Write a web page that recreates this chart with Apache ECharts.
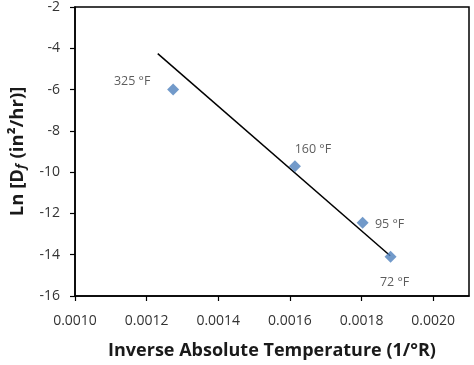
<!DOCTYPE html>
<html>
<head>
<meta charset="utf-8">
<script src="https://cdn.jsdelivr.net/npm/echarts@6/dist/echarts.min.js"></script>
<style>html,body{margin:0;padding:0;background:#fff}#c{width:474px;height:365px}</style>
</head>
<body>
<div id="c"></div>
<script>
// Data
var tempLabels = ['325 °F', '160 °F', '95 °F', '72 °F'];
var inverseTemp = [0.001274, 0.001614, 0.001803, 0.001881];
var lnDf = [-6.0, -9.71, -12.45, -14.1];
var trendX = [0.001231, 0.001880];
var trendY = [-4.26, -14.05];
var xTicks = [0.0010, 0.0012, 0.0014, 0.0016, 0.0018, 0.0020];
var yTicks = [-16, -14, -12, -10, -8, -6, -4, -2];

// label placement (style, not data)
var labelOffsets = [[-41, -8], [18, -17], [27, 2], [4, 26]];

var scatterData = inverseTemp.map(function (x, i) {
  return {
    value: [x, lnDf[i]],
    label: { show: true, position: 'inside', offset: labelOffsets[i], formatter: tempLabels[i] }
  };
});
var trendData = trendX.map(function (x, i) { return [x, trendY[i]]; });

var FONT = '"Open Sans", "Liberation Sans", sans-serif';
var chart = echarts.init(document.getElementById('c'), null, { renderer: 'canvas' });
chart.setOption({
  animation: false,
  backgroundColor: '#fff',
  grid: {
    left: 70, right: 5, top: 6.5, bottom: 69,
    show: true, borderColor: '#000', borderWidth: 1.5, backgroundColor: 'transparent'
  },
  xAxis: {
    type: 'value',
    min: 0.0010, max: 0.0021,
    interval: 0.0002,
    splitLine: { show: false },
    axisLine: { show: true, onZero: false, lineStyle: { color: '#000', width: 1.5 } },
    axisTick: { show: true, inside: false, length: 5, customValues: xTicks, lineStyle: { color: '#000', width: 1.2 } },
    axisLabel: {
      customValues: xTicks, margin: 18, color: '#333', fontSize: 14, fontFamily: FONT,
      formatter: function (v) { return v.toFixed(4); }
    },
    name: 'Inverse Absolute Temperature (1/°R)',
    nameLocation: 'middle', nameGap: 46, nameMoveOverlap: false,
    nameTextStyle: { fontSize: 18, fontWeight: 'bold', color: '#1a1a1a', fontFamily: FONT }
  },
  yAxis: {
    type: 'value',
    min: -16, max: -2, interval: 2,
    splitLine: { show: false },
    axisLine: { show: true, onZero: false, lineStyle: { color: '#000', width: 1.5 } },
    axisTick: { show: true, inside: false, length: 5, customValues: yTicks, lineStyle: { color: '#000', width: 1.2 } },
    axisLabel: { customValues: yTicks, margin: 15, color: '#333', fontSize: 14, fontFamily: FONT },
    name: '{a|Ln [D}{s|f}{a| (in²/hr)]}',
    nameLocation: 'middle', nameRotate: 90, nameGap: 47, nameMoveOverlap: false,
    nameTextStyle: {
      fontSize: 18.5, fontWeight: 'bold', color: '#1a1a1a', fontFamily: FONT,
      rich: {
        a: { fontSize: 18.5, fontWeight: 'bold', color: '#1a1a1a', fontFamily: FONT },
        s: { fontSize: 13, fontWeight: 'bold', fontStyle: 'italic', color: '#1a1a1a', fontFamily: FONT, verticalAlign: 'bottom', padding: [8, 1, 0, 0] }
      }
    }
  },
  series: [
    {
      type: 'line',
      data: trendData,
      symbol: 'none',
      lineStyle: { color: '#000', width: 1.5 },
      z: 2
    },
    {
      type: 'scatter',
      data: scatterData,
      symbol: 'diamond',
      symbolSize: 12,
      itemStyle: { color: '#4f81bd' },
      label: { color: '#333', fontSize: 12.5, fontFamily: FONT },
      z: 3
    }
  ]
});
</script>
</body>
</html>
